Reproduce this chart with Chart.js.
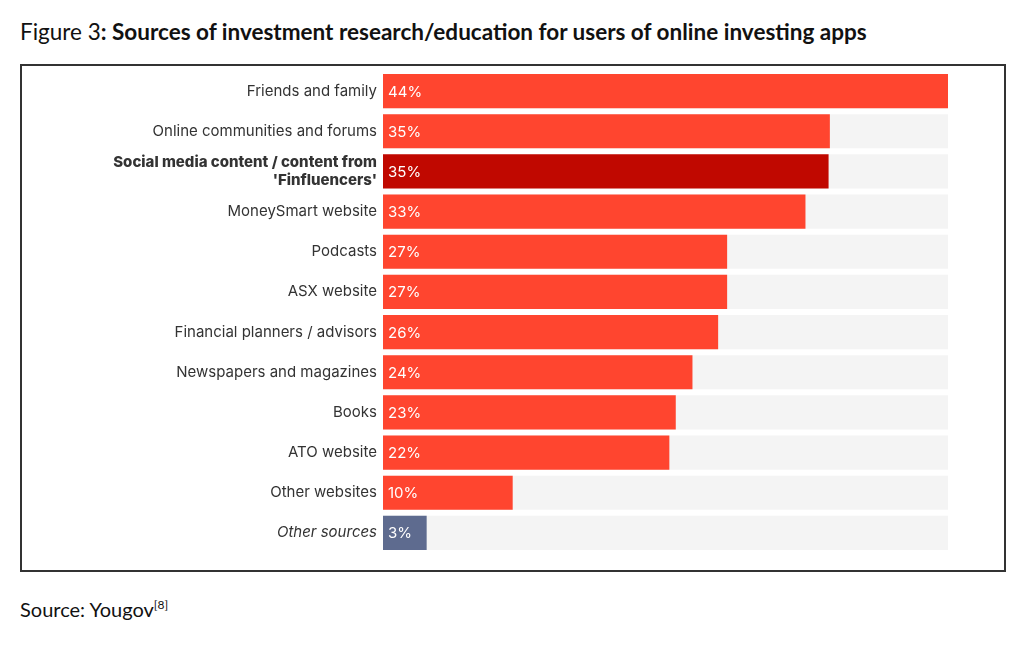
<!DOCTYPE html>
<html>
<head>
<meta charset="utf-8">
<script src="https://cdn.jsdelivr.net/npm/chart.js@4"></script>
<style>
  body { margin: 0; background: #fff; width: 1024px; height: 646px; position: relative; font-family: Lato, "Open Sans", sans-serif; color: #111; }
  #title { position: absolute; left: 20px; top: 18px; font-size: 22.5px; white-space: nowrap; }
  #frame { position: absolute; left: 20px; top: 64px; width: 986px; height: 508px; border: 2px solid #333; box-sizing: border-box; }
  #chart { display: block; }
  #source { position: absolute; left: 20px; top: 597px; font-size: 20px; }
  #source sup { font-size: 12px; }
</style>
</head>
<body>
<div id="title">Figure 3<b>: Sources of investment research/education for users of online investing apps</b></div>
<div id="frame"><canvas id="chart" width="982" height="504"></canvas></div>
<div id="source">Source: Yougov<sup>[8]</sup></div>
<script>
// categories and values
let categorias = [
  'Friends and family',
  'Online communities and forums',
  ['Social media content / content from', "'Finfluencers'"],
  'MoneySmart website',
  'Podcasts',
  'ASX website',
  'Financial planners / advisors',
  'Newspapers and magazines',
  'Books',
  'ATO website',
  'Other websites',
  'Other sources'
];
let valores = [44, 34.8, 34.7, 32.9, 26.8, 26.8, 26.1, 24.1, 22.8, 22.3, 10.1, 3.4];
let etiquetas = ['44%', '35%', '35%', '33%', '27%', '27%', '26%', '24%', '23%', '22%', '10%', '3%'];
let maximo = 44;
let fondo = categorias.map(() => maximo);

let colores = valores.map((v, i) => i == 2 ? '#c00800' : (i == 11 ? '#5e6b8f' : '#ff452f'));

// white % text at the start of each bar
let etiquetasPlugin = {
  id: 'etiquetas',
  afterDatasetsDraw(chart) {
    let ctx = chart.ctx;
    let meta = chart.getDatasetMeta(0);
    ctx.save();
    ctx.fillStyle = '#fff';
    ctx.font = '15px Inter, sans-serif';
    ctx.textBaseline = 'middle';
    ctx.textAlign = 'left';
    meta.data.forEach((bar, i) => {
      ctx.fillText(etiquetas[i], bar.base + 5, bar.y + 1);
    });
    ctx.restore();
  }
};

new Chart(document.getElementById('chart'), {
  type: 'bar',
  data: {
    labels: categorias,
    datasets: [
      { data: valores, backgroundColor: colores, grouped: false, barPercentage: 0.85, categoryPercentage: 1 },
      { data: fondo, backgroundColor: '#f4f4f4', grouped: false, barPercentage: 0.85, categoryPercentage: 1 }
    ]
  },
  options: {
    indexAxis: 'y',
    responsive: false,
    animation: false,
    events: [],
    layout: { padding: { top: 5, bottom: 17, right: 56, left: 0 } },
    plugins: { legend: { display: false }, tooltip: { enabled: false } },
    scales: {
      x: { display: false, min: 0, max: maximo },
      y: {
        grid: { display: false, drawTicks: false, tickLength: 0 },
        border: { display: false },
        afterFit: (scale) => {
          scale.width = 361;
          scale.paddingTop = 0;
          scale.paddingBottom = 0;
        },
        ticks: {
          padding: 6,
          color: '#333',
          font: (c) => ({
            family: 'Inter, sans-serif',
            size: 15,
            weight: c.index == 2 ? '800' : 'normal',
            style: c.index == 11 ? 'italic' : 'normal',
            lineHeight: 1.2
          })
        }
      }
    }
  },
  plugins: [etiquetasPlugin]
});
</script>
</body>
</html>
